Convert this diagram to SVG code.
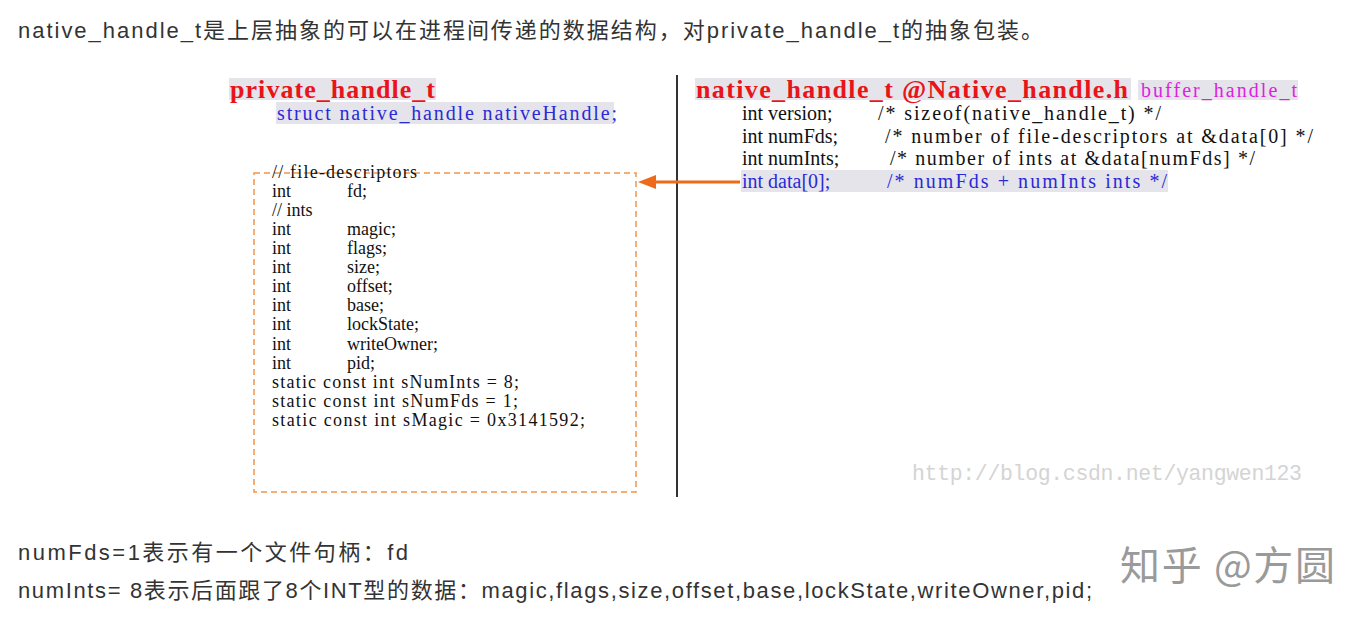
<svg xmlns="http://www.w3.org/2000/svg" width="1372" height="622" viewBox="0 0 1372 622">
<style>
.cap{font-family:"Liberation Sans","Noto Sans CJK SC",sans-serif;font-size:22px;fill:#333}
.s{font-family:"Liberation Serif",serif;font-size:18px;fill:#111}
.r{font-family:"Liberation Serif",serif;font-size:20px;fill:#111}
.t{font-family:"Liberation Serif",serif;font-size:26px;font-weight:bold;fill:#e8141a}
.b{fill:#2a2ad8}
.hl{fill:#e4e4ea}
</style>
<rect width="1372" height="622" fill="#fff"/>
<text class="cap" x="18" y="38" textLength="1025">native_handle_t是上层抽象的可以在进程间传递的数据结构，对private_handle_t的抽象包装。</text>
<g id="private">
<rect class="hl" x="229" y="78" width="207" height="22"/>
<rect class="hl" x="276" y="102" width="338" height="22"/>
<text class="t" x="230" y="98" textLength="205">private_handle_t</text>
<text class="r b" x="277" y="120" textLength="340">struct native_handle nativeHandle;</text>
</g>
<g id="box">
<rect x="254" y="173" width="382" height="319" fill="none" stroke="#f0954a" stroke-width="1.5" stroke-dasharray="6,4"/>
<g class="s">
<text x="272" y="178" textLength="145">// file-descriptors</text>
<text x="272" y="197">int</text><text x="347" y="197">fd;</text>
<text x="272" y="216">// ints</text>
<text x="272" y="235">int</text><text x="347" y="235">magic;</text>
<text x="272" y="254">int</text><text x="347" y="254">flags;</text>
<text x="272" y="273">int</text><text x="347" y="273">size;</text>
<text x="272" y="292">int</text><text x="347" y="292">offset;</text>
<text x="272" y="311">int</text><text x="347" y="311">base;</text>
<text x="272" y="330">int</text><text x="347" y="330">lockState;</text>
<text x="272" y="350">int</text><text x="347" y="350">writeOwner;</text>
<text x="272" y="369">int</text><text x="347" y="369">pid;</text>
<text x="272" y="388" textLength="247">static const int sNumInts = 8;</text>
<text x="272" y="407" textLength="246">static const int sNumFds = 1;</text>
<text x="272" y="426" textLength="313">static const int sMagic = 0x3141592;</text>
</g>
</g>
<g id="native">
<rect class="hl" x="695" y="78" width="436" height="22"/>
<rect class="hl" x="1138" y="80" width="160" height="20"/>
<rect class="hl" x="741" y="170" width="427" height="22"/>
<text class="t" x="696" y="98" textLength="432">native_handle_t @Native_handle.h</text>
<text class="r" x="1141" y="97" style="fill:#e020e0" textLength="156">buffer_handle_t</text>
<g class="r">
<text x="742" y="120">int version;</text><text x="878" y="120" textLength="283">/* sizeof(native_handle_t) */</text>
<text x="742" y="143">int numFds;</text><text x="885" y="143" textLength="428">/* number of file-descriptors at &amp;data[0] */</text>
<text x="742" y="165">int numInts;</text><text x="890" y="165" textLength="365">/* number of ints at &amp;data[numFds] */</text>
<text x="742" y="188" class="b">int data[0];</text><text x="887" y="188" class="b" textLength="280">/* numFds + numInts ints */</text>
</g>
</g>
<g id="connectors">
<line x1="677" y1="75" x2="677" y2="497" stroke="#333" stroke-width="2"/>
<line x1="740" y1="182" x2="652" y2="182" stroke="#ee6a1a" stroke-width="3"/>
<polygon points="638,182 656,175 656,189" fill="#ee6a1a"/>
</g>
<text x="912" y="480" font-family="Liberation Mono,monospace" font-size="21.5" fill="#d4d4d4" textLength="390">http://blog.csdn.net/yangwen123</text>
<text class="cap" x="18" y="560" textLength="390">numFds=1表示有一个文件句柄：fd</text>
<text class="cap" x="18" y="598" textLength="1074">numInts= 8表示后面跟了8个INT型的数据：magic,flags,size,offset,base,lockState,writeOwner,pid;</text>
<text x="1120" y="580" font-family="Noto Sans CJK SC,sans-serif" font-size="40" fill="#9a9a9a" textLength="215">知乎 @方圆</text>
</svg>
